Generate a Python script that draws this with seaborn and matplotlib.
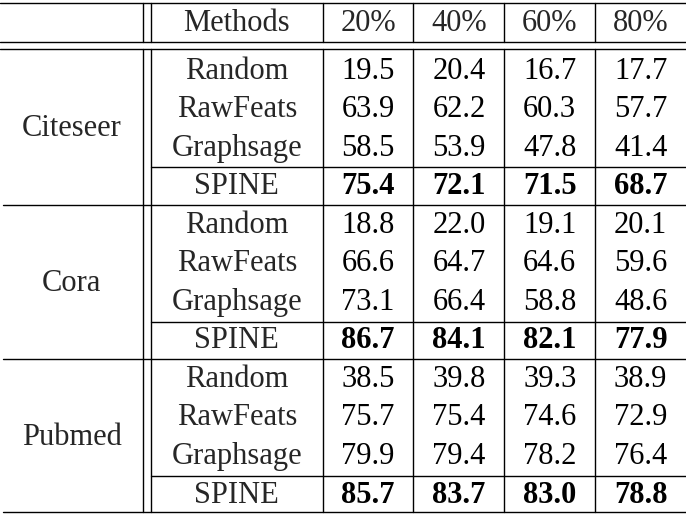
import numpy as np
import matplotlib
matplotlib.use('Agg')
import matplotlib.pyplot as plt
from matplotlib.colors import ListedColormap
import seaborn as sns

# ------------------------------
# 표 데이터
# ------------------------------
datasets = ['Citeseer', 'Cora', 'Pubmed']
methods = ['Random', 'RawFeats', 'Graphsage', 'SPINE']
ratios = ['20%', '40%', '60%', '80%']

citeseer = [[19.5, 20.4, 16.7, 17.7],
            [63.9, 62.2, 60.3, 57.7],
            [58.5, 53.9, 47.8, 41.4],
            [75.4, 72.1, 71.5, 68.7]]
cora = [[18.8, 22.0, 19.1, 20.1],
        [66.6, 64.7, 64.6, 59.6],
        [73.1, 66.4, 58.8, 48.6],
        [86.7, 84.1, 82.1, 77.9]]
pubmed = [[38.5, 39.8, 39.3, 38.9],
          [75.7, 75.4, 74.6, 72.9],
          [79.9, 79.4, 78.2, 76.4],
          [85.7, 83.7, 83.0, 78.8]]

values = np.array(citeseer + cora + pubmed)

# ------------------------------
# 레이아웃 (픽셀 단위)
# ------------------------------
W, H = 686, 516
FS = 22
FONT = 'Liberation Serif'
CAP = 0.662 * FS * 100 / 72   # 대문자 높이 (px)

sns.set_theme(style='white')
plt.rcParams['font.family'] = [FONT, 'DejaVu Serif']

x_ds = (0, 143.3)          # 데이터셋 열
x_dbl = (143.3, 151.0)     # 이중 세로선
x_num = [322.7, 413.3, 504.3, 595.0, W]   # 숫자 열 경계
y_top, y_hdr1, y_hdr2, y_bot = 3.0, 41.8, 49.3, 511.7
row_h = (y_bot - y_hdr2) / len(values)

fig = plt.figure(figsize=(W / 100, H / 100), dpi=100)

# 숫자 셀: seaborn heatmap (흰색) + 주석
hax = fig.add_axes([x_num[0] / W, 1 - y_bot / H,
                    (W - x_num[0]) / W, (y_bot - y_hdr2) / H])
sns.heatmap(values, ax=hax, cmap=ListedColormap(['white']), cbar=False,
            annot=True, fmt='.1f', xticklabels=False, yticklabels=False,
            annot_kws={'fontsize': FS, 'color': 'black', 'family': FONT})
hax.set_axis_off()
ncol = values.shape[1]
for k, t in enumerate(hax.texts):
    if (k // ncol) % 4 == 3:
        t.set_fontweight('bold')
    tx, ty = t.get_position()
    t.set_va('baseline')
    t.set_position((tx, ty + (CAP / 2) / row_h))

# 선과 라벨: 그림 전체 축
ax = fig.add_axes([0, 0, 1, 1])
ax.set_xlim(0, W)
ax.set_ylim(H, 0)
ax.set_axis_off()
ax.patch.set_visible(False)

lw = 1.0
# 가로선
ax.plot([0, W], [y_top, y_top], color='black', lw=lw)
ax.plot([0, W], [y_hdr1, y_hdr1], color='black', lw=lw)
ax.plot([0, W], [y_hdr2, y_hdr2], color='black', lw=lw)
for b in range(len(datasets)):
    yb = y_hdr2 + (b + 1) * 4 * row_h
    if b < len(datasets) - 1:
        yb += 1.5
    ax.plot([3, W], [yb, yb], color='black', lw=lw)
    ys = y_hdr2 + (b * 4 + 3) * row_h + 2.5
    ax.plot([x_dbl[1], W], [ys, ys], color='black', lw=lw)

# 세로선 (이중 가로선 사이에서 끊김)
for xv in [x_dbl[0], x_dbl[1]] + x_num[:-1]:
    ax.plot([xv, xv], [y_top, y_hdr1], color='black', lw=lw)
    ax.plot([xv, xv], [y_hdr2, y_bot], color='black', lw=lw)


def cell_text(x, yc, s):
    ax.text(x, yc + CAP / 2, s, ha='center', va='baseline', fontsize=FS)


# 헤더
y_head = (y_top + y_hdr1) / 2 - 1.5
cell_text((x_dbl[1] + x_num[0]) / 2, y_head, 'Methods')
for i, r in enumerate(ratios):
    cell_text((x_num[i] + x_num[i + 1]) / 2, y_head, r)

# 행 라벨
for b, ds in enumerate(datasets):
    yc = y_hdr2 + (b * 4 + 2) * row_h
    cell_text((x_ds[0] + x_ds[1]) / 2, yc, ds)
    for m, name in enumerate(methods):
        ym = y_hdr2 + (b * 4 + m + 0.5) * row_h
        cell_text((x_dbl[1] + x_num[0]) / 2, ym, name)

fig.savefig('out.png', dpi=100)
